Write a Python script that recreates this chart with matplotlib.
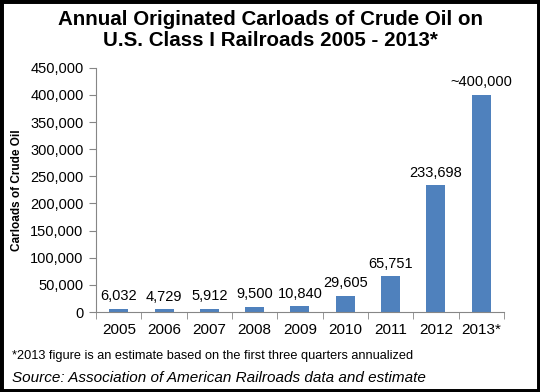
import matplotlib.pyplot as plt
from matplotlib.ticker import FuncFormatter

years = ["2005", "2006", "2007", "2008", "2009", "2010", "2011", "2012", "2013*"]
carloads = [6032, 4729, 5912, 9500, 10840, 29605, 65751, 233698, 400000]
bar_labels = ["6,032", "4,729", "5,912", "9,500", "10,840", "29,605", "65,751", "233,698", "~400,000"]

plt.rcParams['font.family'] = ['Liberation Sans', 'DejaVu Sans']

fig = plt.figure(figsize=(5.4, 3.92), dpi=100)
ax = fig.add_axes([0.178, 0.204, 0.755, 0.623])

x = range(len(years))
ax.bar(x, carloads, width=0.42, color="#4F81BD")
for i, v in enumerate(carloads):
    ax.annotate(bar_labels[i], (i, v), xytext=(0, 4), textcoords="offset points",
                ha="center", va="bottom", fontsize=10.5)

ax.set_xlim(-0.5, len(years) - 0.5)
ax.set_ylim(0, 450000)
ax.set_yticks(range(0, 450001, 50000))
ax.yaxis.set_major_formatter(FuncFormatter(lambda v, p: f"{int(v):,}"))
ax.set_xticks(list(x))
ax.set_xticklabels(years, fontsize=11)
ax.set_xticks([i + 0.5 for i in range(-1, len(years))], minor=True)
ax.tick_params(axis="x", which="major", length=0, pad=8)
ax.tick_params(axis="x", which="minor", length=5, color="#868686", direction="out")
ax.tick_params(axis="y", length=5, color="#868686", labelsize=10.5, pad=4)
for s in ["top", "right"]:
    ax.spines[s].set_visible(False)
for s in ["left", "bottom"]:
    ax.spines[s].set_color("#868686")
ax.set_ylabel("Carloads of Crude Oil", fontsize=8.5, fontweight="bold", labelpad=5)

fig.text(0.5, 0.975, "Annual Originated Carloads of Crude Oil on\nU.S. Class I Railroads 2005 - 2013*",
         ha="center", va="top", fontsize=14.8, fontweight="bold", linespacing=1.15)
fig.text(0.022, 0.092, "*2013 figure is an estimate based on the first three quarters annualized",
         fontsize=9.2, va="center")
fig.text(0.022, 0.036, "Source: Association of American Railroads data and estimate",
         fontsize=11, style="italic", va="center")

border = plt.Rectangle((0, 0), 1, 1, transform=fig.transFigure, fill=False,
                       edgecolor="black", linewidth=5)
fig.patches.append(border)

fig.savefig("out.png", dpi=100)
